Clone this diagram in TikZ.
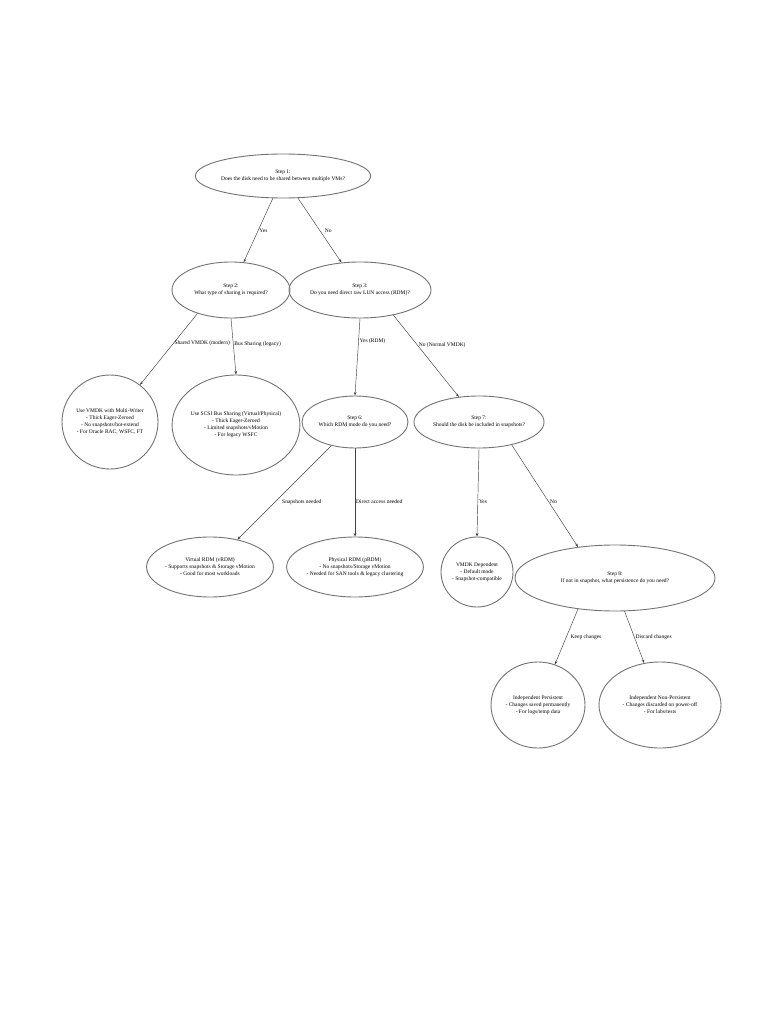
\documentclass[tikz,border=0pt]{standalone}
\usepackage{fontspec}
\setmainfont{Liberation Serif}
\usetikzlibrary{shapes.geometric,arrows.meta}
\begin{document}
\begin{tikzpicture}[x=1pt,y=-1pt,
  el/.style={ellipse, draw=black!55, line width=0.9pt, align=center, inner sep=0pt,
             font=\fontsize{5.5}{7}\selectfont},
  edge/.style={draw=black!75, line width=0.45pt, -{Stealth[length=3.5pt,width=2.6pt]}},
  lbl/.style={font=\fontsize{5.5}{6}\selectfont, inner sep=1pt, anchor=west}]
\useasboundingbox[fill=white] (0,0) rectangle (768,1024);

\node[el, minimum width=166pt, minimum height=44pt] (s1) at (283,176)
  {Step 1:\\Does the disk need to be shared between multiple VMs?};
\node[el, minimum width=118pt, minimum height=56pt] (s2) at (231,290)
  {Step 2:\\What type of sharing is required?};
\node[el, minimum width=142pt, minimum height=56pt] (s3) at (360,290)
  {Step 3:\\Do you need direct raw LUN access (RDM)?};
\node[el, minimum width=96pt, minimum height=94pt] (l1) at (110,422)
  {Use VMDK with Multi-Writer\\- Thick Eager-Zeroed\\- No snapshots/hot-extend\\- For Oracle RAC, WSFC, FT};
\node[el, minimum width=116pt, minimum height=100pt] (l2) at (236,425)
  {Use SCSI Bus Sharing (Virtual/Physical)\\- Thick Eager-Zeroed\\- Limited snapshots/vMotion\\- For legacy WSFC};
\node[el, minimum width=106pt, minimum height=52pt] (s6) at (355,422)
  {Step 6:\\Which RDM mode do you need?};
\node[el, minimum width=130pt, minimum height=52pt] (s7) at (479,422)
  {Step 7:\\Should the disk be included in snapshots?};
\node[el, minimum width=120pt, minimum height=60pt] (v) at (210,567)
  {Virtual RDM (vRDM)\\- Supports snapshots \& Storage vMotion\\- Good for most workloads};
\node[el, minimum width=132pt, minimum height=60pt] (p) at (355,567)
  {Physical RDM (pRDM)\\- No snapshots/Storage vMotion\\- Needed for SAN tools \& legacy clustering};
\node[el, minimum width=72pt, minimum height=70pt] (d) at (477,572)
  {VMDK Dependent\\- Default mode\\- Snapshot-compatible};
\node[el, minimum width=200pt, minimum height=66pt] (s8) at (615,578)
  {Step 8:\\If not in snapshot, what persistence do you need?};
\node[el, minimum width=94pt, minimum height=86pt] (ip) at (538,705)
  {Independent Persistent\\- Changes saved permanently\\- For logs/temp data};
\node[el, minimum width=122pt, minimum height=86pt] (inp) at (660,705)
  {Independent Non-Persistent\\- Changes discarded on power-off\\- For labs/tests};

\draw[edge] (s1) -- node[lbl, pos=0.5] {Yes} (s2);
\draw[edge] (s1) -- node[lbl, pos=0.5, xshift=4pt] {No} (s3);
\draw[edge] (s2.215) -- node[lbl, pos=0.42] {Shared VMDK (modern)} (l1);
\draw[edge] (s2.south) -- node[lbl, pos=0.45] {Bus Sharing (legacy)} (l2.north);
\draw[edge] (s3.south) -- node[lbl, pos=0.3] {Yes (RDM)} (s6.north);
\draw[edge] (s3.-37) -- node[lbl, pos=0.37] {No (Normal VMDK)} (s7);
\draw[edge] (s6) -- node[lbl, pos=0.6, xshift=6pt] {Snapshots needed} (v);
\draw[edge] (s6.south) -- node[lbl, pos=0.6] {Direct access needed} (p.north);
\draw[edge] (s7.south) -- node[lbl, pos=0.6] {Yes} (d.north);
\draw[edge] (s7.-35) -- node[lbl, pos=0.56] {No} (s8.140);
\draw[edge] (s8.220) -- node[lbl, pos=0.5, xshift=3pt] {Keep changes} (ip);
\draw[edge] (s8.-74) -- node[lbl, pos=0.5] {Discard changes} (inp);
\end{tikzpicture}
\end{document}
